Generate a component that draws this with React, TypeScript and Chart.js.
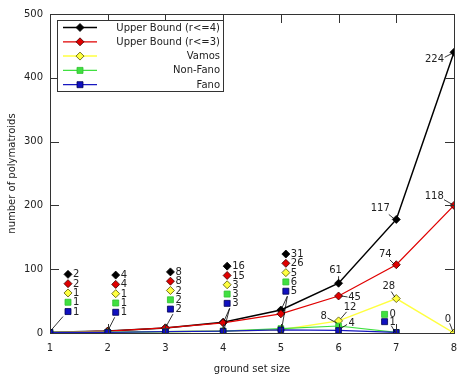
import React, { useEffect, useRef } from "react";
import { Chart, registerables } from "chart.js";

Chart.register(...registerables);

// ---------- data ----------
const groundSetSizes = [1, 2, 3, 4, 5, 6, 7, 8];
const seriesNames = ["Upper Bound (r<=4)", "Upper Bound (r<=3)", "Vamos", "Non-Fano", "Fano"];
// plotted values (number of polymatroids)
const upperBound4 = [1, 3, 8, 17, 36, 78, 178, 440];
const upperBound3 = [1, 3, 8, 16, 30, 58, 107, 200];
const vamos = [1, 1, 2, 3, 5, 19, 54, 0];
const nonFano = [1, 1, 2, 3, 7, 11, 1];
const fano = [1, 1, 2, 3, 5, 4, 1];
// annotated counts
const upperBound4Labels = ["2", "4", "8", "16", "31", "61", "117", "224"];
const upperBound3Labels = ["2", "4", "8", "15", "26", "45", "74", "118"];
const vamosLabels = ["1", "1", "2", "3", "5", "12", "28", "0"];
const nonFanoLabels = ["1", "1", "2", "3", "6", "8", "0"];
const fanoLabels = ["1", "1", "2", "3", "5", "4", "1"];
const yTickValues = [0, 100, 200, 300, 400, 500];
const xTickValues = [1, 2, 3, 4, 5, 6, 7, 8];

const seriesValues = [upperBound4, upperBound3, vamos, nonFano, fano];
const seriesLabels = [upperBound4Labels, upperBound3Labels, vamosLabels, nonFanoLabels, fanoLabels];

// ---------- styles / layout ----------
const STYLES = [
  { line: "#000000", fill: "#000000", edge: "#000000", shape: "diamond", width: 1.5 },
  { line: "#e00000", fill: "#e00000", edge: "#3a0000", shape: "diamond", width: 1.2 },
  { line: "#ffff40", fill: "#ffff40", edge: "#505000", shape: "diamond", width: 1.5 },
  { line: "#40e040", fill: "#40e040", edge: "#30c030", shape: "square", width: 1.2 },
  { line: "#1818c0", fill: "#1010c0", edge: "#000050", shape: "square", width: 1.2 },
];
const FONT = "10px 'DejaVu Sans', sans-serif";
const TEXT = "#222222";
const ROW = 9.3;

// stacked label groups for the first five sizes (offsets in px relative to the black point)
const STACKS = [
  { idx: 0, dx: 18, dy: -58, sdx: -5, targets: [0] },
  { idx: 1, dx: 8, dy: -56, sdx: -1, targets: [0] },
  { idx: 2, dx: 5, dy: -56, sdx: 2.5, targets: [1] },
  { idx: 3, dx: 4, dy: -56, sdx: 2.5, targets: [1, 4] },
  { idx: 4, dx: 5, dy: -56, sdx: 1.5, targets: [0, 4] },
];

// single labels: series, index, text centre offset, pointer start/end offsets
const SINGLES = [
  { s: 0, i: 5, tx: -3, ty: -13, l: [0, -7, 0, -2] },
  { s: 1, i: 5, tx: 16, ty: 1.5, l: [3, 0, 9, 1] },
  { s: 2, i: 5, tx: 11.5, ty: -13, l: [8, -9, 2, -2] },
  { s: 3, i: 5, tx: -15, ty: -10, l: [-11, -8, -2, -3] },
  { s: 4, i: 5, tx: 13, ty: -7, l: [8.5, -6, 3, -2.5] },
  { s: 0, i: 6, tx: -16, ty: -11, l: [-7.5, -5, -2, -0.5] },
  { s: 1, i: 6, tx: -11, ty: -10, l: [-6.5, -5, -2, -0.5] },
  { s: 2, i: 6, tx: -7.5, ty: -12, l: [-5, -7, -1.5, -1.5] },
  { s: 0, i: 7, tx: -19.5, ty: 7.5, l: [-9.3, 5, -1, 0.6] },
  { s: 1, i: 7, tx: -19.7, ty: -9, l: [-10, -5.7, -1.7, -1] },
  { s: 2, i: 7, tx: -6, ty: -13.7, l: [-4.3, -9.7, -1, -1.3] },
];

function drawMarker(ctx: CanvasRenderingContext2D, styleIdx: number, x: number, y: number) {
  const st = STYLES[styleIdx];
  ctx.save();
  ctx.beginPath();
  if (st.shape === "diamond") {
    const r = 4;
    ctx.moveTo(x, y - r);
    ctx.lineTo(x + r, y);
    ctx.lineTo(x, y + r);
    ctx.lineTo(x - r, y);
    ctx.closePath();
  } else {
    const s = 3;
    ctx.rect(x - s, y - s, 2 * s, 2 * s);
  }
  ctx.fillStyle = st.fill;
  ctx.fill();
  ctx.lineWidth = 0.8;
  ctx.strokeStyle = st.edge;
  ctx.stroke();
  ctx.restore();
}

function line(ctx: CanvasRenderingContext2D, x1: number, y1: number, x2: number, y2: number) {
  ctx.beginPath();
  ctx.moveTo(x1, y1);
  ctx.lineTo(x2, y2);
  ctx.stroke();
}

const framePlugin = {
  id: "gnuplotFrame",
  afterDatasetsDraw(chart: any) {
    const ctx: CanvasRenderingContext2D = chart.ctx;
    const ca = chart.chartArea;
    const xs = chart.scales.x;
    const ys = chart.scales.y;
    ctx.save();
    // border and inward ticks
    ctx.strokeStyle = "#333333";
    ctx.lineWidth = 1;
    ctx.strokeRect(Math.round(ca.left) + 0.5, Math.round(ca.top) + 0.5, Math.round(ca.right - ca.left), Math.round(ca.bottom - ca.top));
    const T = 9;
    yTickValues.forEach((v) => {
      const y = Math.round(ys.getPixelForValue(v)) + 0.5;
      line(ctx, ca.left, y, ca.left + T, y);
      line(ctx, ca.right, y, ca.right - T, y);
    });
    xTickValues.forEach((v) => {
      const x = Math.round(xs.getPixelForValue(v)) + 0.5;
      line(ctx, x, ca.top, x, ca.top + T);
      line(ctx, x, ca.bottom, x, ca.bottom - T);
    });

    const pt = (s: number, i: number) => chart.getDatasetMeta(s).data[i];

    ctx.font = FONT;
    ctx.fillStyle = TEXT;
    ctx.strokeStyle = "#000000";
    ctx.lineWidth = 0.8;
    ctx.textBaseline = "middle";

    // stacked groups
    STACKS.forEach((g) => {
      const p = pt(0, g.idx);
      const sx = p.x + g.dx;
      const top = p.y + g.dy;
      for (let s = 0; s < 5; s++) {
        const y = top + s * ROW;
        drawMarker(ctx, s, sx, y);
        ctx.fillStyle = TEXT;
        ctx.textAlign = "left";
        ctx.fillText(seriesLabels[s][g.idx], sx + 5, y + 0.5);
      }
      const startY = top + 4 * ROW + 5;
      ctx.strokeStyle = "#000000";
      g.targets.forEach((t) => {
        const q = pt(t, g.idx);
        line(ctx, sx + g.sdx, startY, q.x + 1, q.y - 2);
      });
    });

    // single labels
    SINGLES.forEach((a) => {
      const p = pt(a.s, a.i);
      ctx.fillStyle = TEXT;
      ctx.textAlign = "center";
      ctx.fillText(seriesLabels[a.s][a.i], p.x + a.tx, p.y + a.ty);
      ctx.strokeStyle = "#000000";
      line(ctx, p.x + a.l[0], p.y + a.l[1], p.x + a.l[2], p.y + a.l[3]);
    });

    // small stack for Non-Fano / Fano at size 7
    const b = pt(4, 6);
    const mx = b.x - 11.7;
    [3, 4].forEach((s, k) => {
      const y = b.y - 18 + k * 7.3;
      drawMarker(ctx, s, mx, y);
      ctx.fillStyle = TEXT;
      ctx.textAlign = "left";
      ctx.fillText(seriesLabels[s][6], mx + 5, y + 0.5);
    });
    ctx.strokeStyle = "#000000";
    line(ctx, b.x - 5, b.y - 6.7, b.x - 1, b.y);

    // legend box
    const lx = ca.left + 7;
    const ly = ca.top + 6;
    const lw = 166;
    const lh = 71;
    ctx.fillStyle = "#ffffff";
    ctx.fillRect(lx, ly, lw, lh);
    ctx.strokeStyle = "#333333";
    ctx.lineWidth = 1;
    ctx.strokeRect(Math.round(lx) + 0.5, Math.round(ly) + 0.5, lw, lh);
    seriesNames.forEach((name, s) => {
      const y = ly + 7.5 + s * 14.3;
      ctx.strokeStyle = STYLES[s].line;
      ctx.lineWidth = STYLES[s].width;
      line(ctx, lx + 6, y, lx + 40, y);
      drawMarker(ctx, s, lx + 23, y);
      ctx.fillStyle = TEXT;
      ctx.textAlign = "right";
      ctx.fillText(name, lx + lw - 3, y + 0.5);
    });
    ctx.restore();
  },
};

export default function App() {
  const ref = useRef<HTMLCanvasElement>(null);
  useEffect(() => {
    if (!ref.current) return;
    const datasets = seriesValues.map((vals, s) => ({
      label: seriesNames[s],
      data: vals.map((v, i) => ({ x: groundSetSizes[i], y: v })),
      borderColor: STYLES[s].line,
      backgroundColor: STYLES[s].fill,
      borderWidth: STYLES[s].width,
      pointStyle: STYLES[s].shape === "diamond" ? "rectRot" : "rect",
      pointRadius: 4,
      pointBorderColor: STYLES[s].edge,
      pointBackgroundColor: STYLES[s].fill,
      pointBorderWidth: 0.8,
      tension: 0,
      fill: false,
      order: s === 0 ? 4 : s === 1 ? 3 : s === 2 ? 2 : s === 3 ? 1 : 0,
    }));
    const chart = new Chart(ref.current, {
      type: "line",
      data: { datasets },
      plugins: [framePlugin],
      options: {
        animation: false,
        responsive: false,
        maintainAspectRatio: false,
        layout: { padding: { top: 14, right: 20, left: 0, bottom: 0 } },
        plugins: { legend: { display: false }, tooltip: { enabled: false } },
        scales: {
          x: {
            type: "linear",
            min: 1,
            max: 8,
            grid: { display: false, drawTicks: false },
            border: { display: false },
            afterFit: (scale: any) => {
              scale.height = 47;
            },
            afterBuildTicks: (scale: any) => {
              scale.ticks = xTickValues.map((v) => ({ value: v }));
            },
            ticks: {
              padding: 9,
              color: TEXT,
              font: { family: "'DejaVu Sans'", size: 10 },
              autoSkip: false,
              maxRotation: 0,
            },
            title: {
              display: true,
              text: "ground set size",
              color: TEXT,
              font: { family: "'DejaVu Sans'", size: 10 },
              padding: { top: 0, bottom: 5 },
            },
          },
          y: {
            type: "linear",
            min: 0,
            max: 500,
            grid: { display: false, drawTicks: false },
            border: { display: false },
            afterFit: (scale: any) => {
              scale.width = 50;
            },
            afterBuildTicks: (scale: any) => {
              scale.ticks = yTickValues.map((v) => ({ value: v }));
            },
            ticks: {
              padding: 7,
              color: TEXT,
              font: { family: "'DejaVu Sans'", size: 10 },
            },
            title: {
              display: true,
              text: "number of polymatroids",
              color: TEXT,
              font: { family: "'DejaVu Sans'", size: 10 },
              padding: { top: 6, bottom: 0 },
            },
          },
        },
      },
    });
    return () => chart.destroy();
  }, []);
  return (
    <div style={{ position: "absolute", left: 0, top: 0, width: 474, height: 380, background: "#ffffff" }}>
      <canvas ref={ref} width={474} height={380} style={{ display: "block" }} />
    </div>
  );
}
